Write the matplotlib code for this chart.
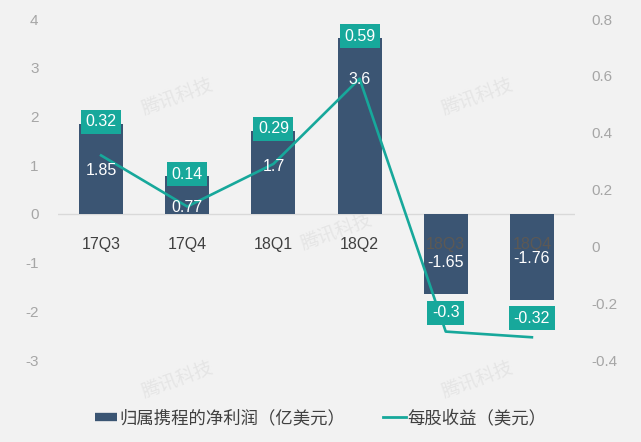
import matplotlib.pyplot as plt
from matplotlib.lines import Line2D

plt.rcParams['font.family'] = ['Liberation Sans', 'Noto Sans CJK SC', 'DejaVu Sans']
plt.rcParams['axes.unicode_minus'] = False

quarters = ['17Q3', '17Q4', '18Q1', '18Q2', '18Q3', '18Q4']
net_income = [1.85, 0.77, 1.7, 3.6, -1.65, -1.76]   # 亿美元
eps = [0.32, 0.14, 0.29, 0.59, -0.3, -0.32]          # 美元
net_label = ['1.85', '0.77', '1.7', '3.6', '-1.65', '-1.76']
eps_label = ['0.32', '0.14', '0.29', '0.59', '-0.3', '-0.32']

bar_c = '#3b5573'
teal = '#17a89b'
bg = '#f2f2f2'

fig = plt.figure(figsize=(6.41, 4.42), dpi=100, facecolor=bg)
ax1 = fig.add_axes([0.0905, 0.1855, 0.8065, 0.7715])
ax2 = ax1.twinx()
# ax1 on top so the white labels / boxes sit over the eps line
ax1.set_zorder(ax2.get_zorder() + 1)
ax1.set_facecolor('none')
ax2.set_facecolor('none')

# faint watermarks
for wx, wy in [(178, 97), (478, 97), (337, 232), (178, 380), (478, 380)]:
    fig.text(wx / 641, 1 - wy / 442, '腾讯科技', color='#e5e5e5', fontsize=13.5,
             rotation=20, ha='center', va='center', zorder=0)

x = list(range(len(quarters)))
ax1.bar(x, net_income, width=0.51, color=bar_c, zorder=2)
ax1.axhline(0, color='#d9d9d9', lw=1, zorder=1)
ax2.set_ylim(-0.4, 0.8)
ax1.plot(x, eps, color=teal, lw=1.9, zorder=3, transform=ax2.transData)
ax1.set_xlim(-0.5, 5.5)
ax1.set_ylim(-3, 4)
ax1.set_yticks(range(-3, 5))
ax2.set_ylim(-0.4, 0.8)
ax2.set_yticks([-0.4, -0.2, 0, 0.2, 0.4, 0.6, 0.8])
ax2.set_yticklabels(['-0.4', '-0.2', '0', '0.2', '0.4', '0.6', '0.8'])

for a in (ax1, ax2):
    for s in a.spines.values():
        s.set_visible(False)
    a.tick_params(length=0, labelsize=11, labelcolor='#a6a6a6')
ax1.tick_params(axis='y', pad=14)
ax2.tick_params(axis='y', pad=12)
ax1.set_xticks([])

# category labels just under the zero line
for i, q in enumerate(quarters):
    col = '#404040' if net_income[i] >= 0 else '#5c5955'
    ax1.annotate(q, (i, 0), xytext=(0, -22), textcoords='offset points',
                 ha='center', va='center', fontsize=11.5, color=col, zorder=4)

# net income labels (white, inside bars)
label_pos = [0.90, 0.14, 0.97, 2.75, -0.99, -0.92]
for i, t in enumerate(net_label):
    ax1.text(i, label_pos[i], t, ha='center', va='center', fontsize=11.5,
             color='white', zorder=5)

# eps boxes at bar ends
for i, t in enumerate(eps_label):
    off = 1.5 if net_income[i] >= 0 else -13.5
    ax1.annotate(t, (i, net_income[i]), xytext=(0, off), textcoords='offset points',
                 ha='center', va='center', fontsize=11.5, color='white', zorder=6,
                 bbox=dict(boxstyle='square,pad=0.28', fc=teal, ec='none'))

handles = [Line2D([], [], color=bar_c, lw=6, solid_capstyle='butt'),
           Line2D([], [], color=teal, lw=2)]
fig.legend(handles, ['归属携程的净利润（亿美元）', '每股收益（美元）'],
           loc='center', bbox_to_anchor=(0.5, 1 - 418 / 442), ncol=2,
           frameon=False, fontsize=12.5, handlelength=1.3, handletextpad=0.1,
           columnspacing=2.2, labelcolor='#404040')

fig.savefig('out.png', dpi=100, facecolor=bg)
